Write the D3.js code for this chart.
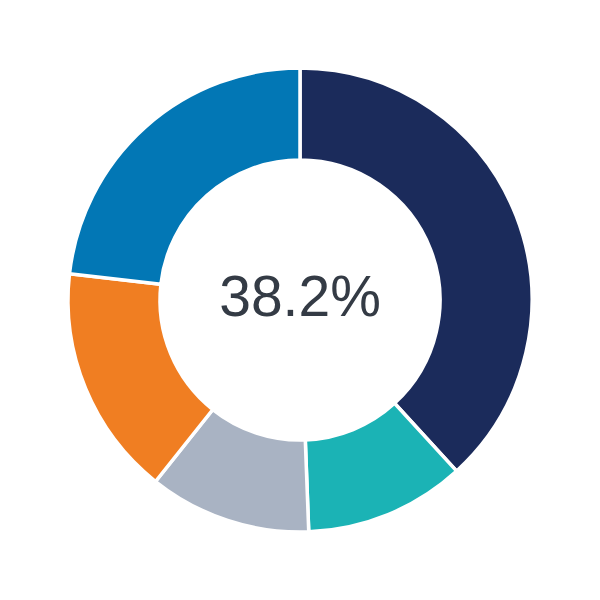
<!DOCTYPE html>
<html lang="en">
<head>
    <meta charset="UTF-8">
    <title>Donut</title>
    <script src="https://d3js.org/d3.v7.min.js"></script>
    <style>
        body { margin: 0; background: #fff; }
    </style>
</head>
<body>
<svg id="chart" width="600" height="600"></svg>

<script>
    // slice data, clockwise from 12 o'clock
    const categories = ["A", "B", "C", "D", "E"];
    const values = [38.2, 11.2, 11.3, 16.1, 23.2];
    const colors = ["#1b2b5b", "#1bb3b5", "#a9b3c3", "#f07e22", "#0277b5"];
    const centerLabel = "38.2%";

    const svg = d3.select("#chart");
    const cx = 300, cy = 300;
    const outerR = 232, innerR = 140;

    const data = categories.map((c, i) => ({ name: c, value: values[i], color: colors[i] }));

    const pie = d3.pie().sort(null).value(d => d.value);
    const arc = d3.arc().innerRadius(innerR).outerRadius(outerR);

    const g = svg.append("g").attr("transform", `translate(${cx},${cy})`);

    g.selectAll("path")
        .data(pie(data))
        .enter().append("path")
        .attr("d", arc)
        .attr("fill", d => d.data.color)
        .attr("stroke", "#fff")
        .attr("stroke-width", 3.5);

    g.append("text")
        .attr("text-anchor", "middle")
        .attr("y", 16)
        .attr("font-family", "Liberation Sans, Arial, sans-serif")
        .attr("font-size", "57px")
        .attr("fill", "#343b45")
        .text(centerLabel);
</script>
</body>
</html>
